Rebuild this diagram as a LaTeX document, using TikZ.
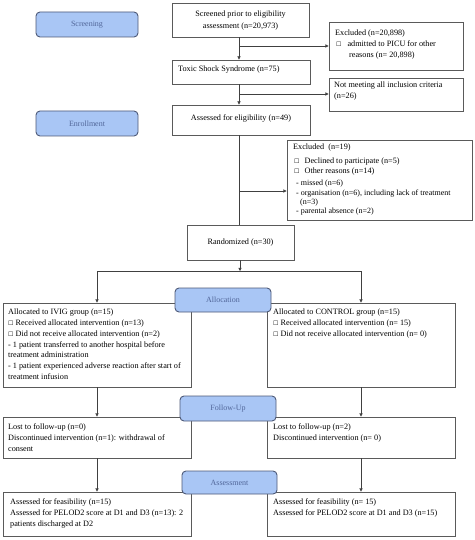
\documentclass[tikz,border=0pt]{standalone}
\usepackage{fontspec}
\setmainfont{Liberation Serif}
\newfontfamily\dvfont{DejaVu Sans}
\usetikzlibrary{arrows.meta}
\definecolor{pillfill}{HTML}{A9C6F5}
\definecolor{pilldraw}{HTML}{4E5A78}
\definecolor{pilltext}{HTML}{52679A}
\definecolor{boxdraw}{HTML}{5A5A5A}
\definecolor{arrcol}{HTML}{404040}
\newcommand\cb{{\dvfont\fontsize{6}{6}\selectfont ☐}}
\tikzset{
  box/.style={draw=boxdraw, line width=0.8pt, fill=white, inner sep=0pt},
  pill/.style={draw=pilldraw, line width=0.9pt, fill=pillfill, rounded corners=4pt, inner sep=0pt,
     font=\fontsize{8}{9}\selectfont, text=pilltext},
  txt/.style={inner sep=0pt, align=left, anchor=north west, font=\fontsize{8.2}{10.8}\selectfont},
  stxt/.style={inner sep=0pt, align=left, anchor=north west, font=\fontsize{8}{9.4}\selectfont},
  ctxt/.style={inner sep=0pt, align=center, font=\fontsize{8.2}{12}\selectfont},
  conn/.style={draw=arrcol, line width=0.7pt},
  arr/.style={conn, -{Triangle[length=3.2pt,width=3.2pt]}}
}
\begin{document}
\begin{tikzpicture}[x=1pt,y=-1pt]
\useasboundingbox[fill=white] (0,0) rectangle (474,540);
% boxes
\node[box, minimum width=137pt, minimum height=34pt] (screened) at (240.5,20) {};
\node[box, minimum width=134pt, minimum height=48pt] (ex1) at (396,46) {};
\node[box, minimum width=138pt, minimum height=24pt] (toxic) at (241,72) {};
\node[box, minimum width=134pt, minimum height=33pt] (notmeet) at (396,94.5) {};
\node[box, minimum width=138pt, minimum height=30pt] (assessed) at (241,120) {};
\node[box, minimum width=185pt, minimum height=80pt] (ex19) at (379.5,180) {};
\node[box, minimum width=107pt, minimum height=35pt] (rand) at (240.5,242.5) {};
\node[box, minimum width=188pt, minimum height=84pt] (ivig) at (97,345) {};
\node[box, minimum width=188pt, minimum height=84pt] (ctrl) at (361,345) {};
\node[box, minimum width=188pt, minimum height=41pt] (lostL) at (97,437.5) {};
\node[box, minimum width=188pt, minimum height=41pt] (lostR) at (361,437.5) {};
\node[box, minimum width=188pt, minimum height=44pt] (finL) at (97,514) {};
\node[box, minimum width=188pt, minimum height=44pt] (finR) at (361,514) {};
% texts
\node[ctxt] (t-screened) at (240.5,20.5) {Screened prior to eligibility\\ assessment (n=20,973)};
\node[txt] (t-ex1) at (335,28) {\strut Excluded (n=20,898)\\ \hspace{1pt}\cb\hspace{6pt}admitted to PICU for other\\ \hspace{14pt}reasons (n= 20,898)};
\node[txt] (t-toxic) at (178,64) {\strut Toxic Shock Syndrome (n=75)};
\node[txt] (t-notmeet) at (334,80) {\strut Not meeting all inclusion criteria\\ (n=26)};
\node[ctxt] (t-assessed) at (241,118) {Assessed for eligibility (n=49)};
\node[txt] (t-ex19a) at (293,142) {\strut Excluded\ \ (n=19)\\[2.5pt] \hspace{1pt}\cb\hspace{5pt}Declined to participate (n=5)\\ \hspace{1pt}\cb\hspace{5pt}Other reasons (n=14)};
\node[stxt] (t-ex19b) at (296,179) {\strut - missed (n=6)\\ - organisation (n=6), including lack of treatment\\ \hspace{4pt}(n=3)\\ - parental absence (n=2)};
\node[ctxt] (t-rand) at (240.5,243) {Randomized (n=30)};
\node[txt] (t-ivig) at (8,307) {\strut Allocated to IVIG group (n=15)\\ \cb\ Received allocated intervention (n=13)\\ \cb\ Did not receive allocated intervention (n=2)\\ - 1 patient transferred to another hospital before\\ treatment administration\\ - 1 patient experienced adverse reaction after start of\\ treatment infusion};
\node[txt] (t-ctrl) at (273,307) {\strut Allocated to CONTROL group (n=15)\\ \cb\ Received allocated intervention (n= 15)\\ \cb\ Did not receive allocated intervention (n= 0)};
\node[txt] (t-lostL) at (8,422) {\strut Lost to follow-up (n=0)\\ Discontinued intervention (n=1): withdrawal of\\ consent};
\node[txt] (t-lostR) at (273,422) {\strut Lost to follow-up (n=2)\\ Discontinued intervention (n= 0)};
\node[txt] (t-finL) at (10,497) {\strut Assessed for feasibility (n=15)\\ Assessed for PELOD2 score at D1 and D3 (n=13): 2\\ patients discharged at D2};
\node[txt] (t-finR) at (273,497) {\strut Assessed for feasibility (n= 15)\\ Assessed for PELOD2 score at D1 and D3 (n=15)};
% connectors
\coordinate (b1) at (239,46);
\coordinate (b2) at (239,94);
\coordinate (b3) at (239,191);
\coordinate (split) at (240,271);
\coordinate (splitL) at (97,271);
\coordinate (splitR) at (361,271);
\draw[arr] (screened.south -| b1) -- (toxic.north -| b1);
\draw[arr] (b1) -- (b1 -| ex1.west);
\draw[arr] (toxic.south -| b2) -- (assessed.north -| b2);
\draw[arr] (b2) -- (b2 -| notmeet.west);
\draw[conn] (assessed.south -| b3) -- (rand.north -| b3);
\draw[arr] (b3) -- (b3 -| ex19.west);
\draw[arr] (rand.south -| split) -- (split);
\draw[conn] (splitL) -- (splitR);
\draw[arr] (splitL) -- (ivig.north);
\draw[arr] (splitR) -- (ctrl.north);
\draw[arr] (ivig.south) -- (lostL.north);
\draw[arr] (ctrl.south) -- (lostR.north);
\draw[arr] (lostL.south) -- (finL.north);
\draw[arr] (lostR.south) -- (finR.north);
% pills
\node[pill, minimum width=102pt, minimum height=25pt] (p-screening) at (87,24.5) {Screening};
\node[pill, minimum width=102pt, minimum height=25pt] (p-enrollment) at (87,123.5) {Enrollment};
\node[pill, minimum width=96pt, minimum height=24pt] (p-allocation) at (223,300) {Allocation};
\node[pill, minimum width=96pt, minimum height=25pt] (p-followup) at (228,408.5) {Follow-Up};
\node[pill, minimum width=95pt, minimum height=23pt] (p-assessment) at (229.5,482.5) {Assessment};
\end{tikzpicture}
\end{document}
